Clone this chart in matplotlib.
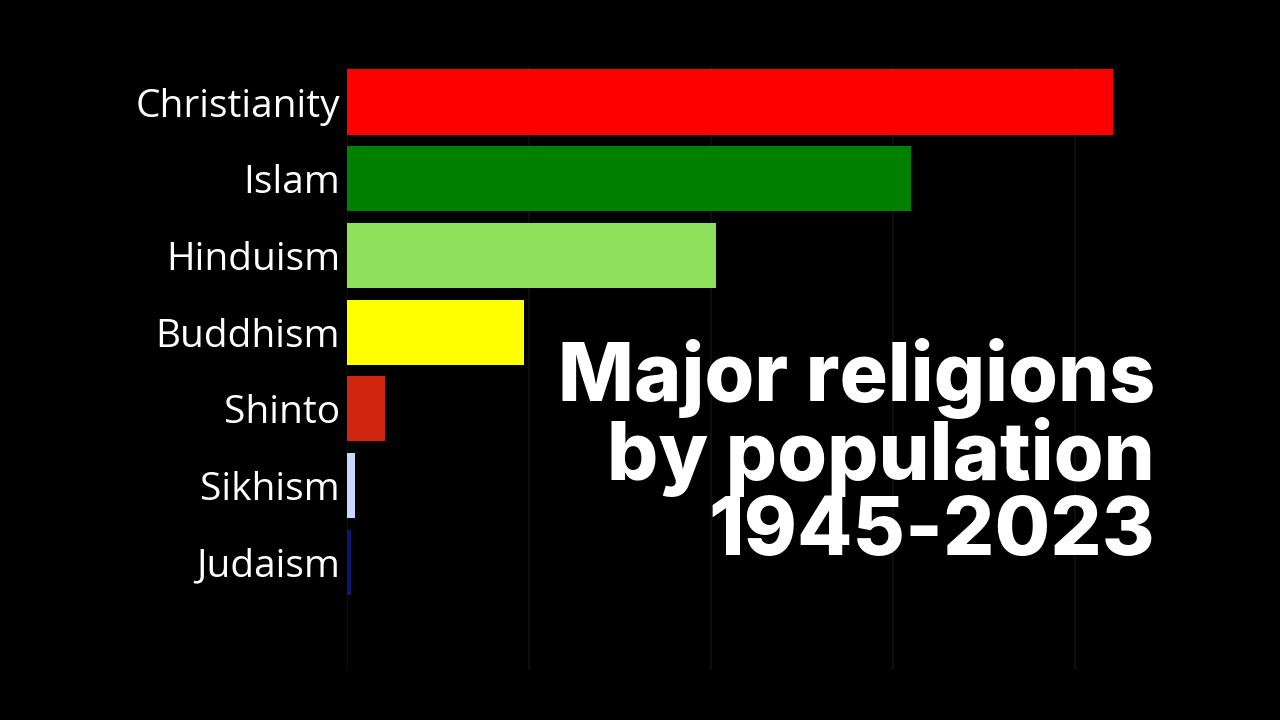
import matplotlib.pyplot as plt

# Religion populations (millions)
religions = ['Christianity', 'Islam', 'Hinduism', 'Buddhism', 'Shinto', 'Sikhism', 'Judaism']
population = [2105, 1550, 1015, 485, 105, 22, 12]
colors = ['#ff0000', '#008000', '#8fe05a', '#ffff00', '#d0260e', '#c9d6ff', '#0b1a6a']

fig = plt.figure(figsize=(12.8, 7.2), dpi=100, facecolor='black')
ax = fig.add_axes([347 / 1280, 50 / 720, (1270 - 347) / 1280, (670 - 66) / 720])
ax.set_facecolor('black')

y = list(range(len(religions)))
ax.barh(y, population, height=0.85, color=colors, zorder=3)

ax.set_xlim(0, (1270 - 347) / 182 * 500)
ax.set_ylim((670 - 102) / 76.7, -(102 - 66) / 76.7)
ax.set_xticks([0, 500, 1000, 1500, 2000])
ax.set_xticklabels([])
ax.grid(axis='x', color='#0e0e0e', linewidth=1.5, zorder=0)
ax.set_yticks(y)
ax.set_yticklabels(religions, color='white', fontsize=28, family='Open Sans')
ax.tick_params(length=0, pad=5)
for s in ax.spines.values():
    s.set_visible(False)

fig.text(1155 / 1280, 1 - 455 / 720, 'Major religions\nby population\n1945-2023',
         ha='right', va='center', color='white', fontsize=58, fontweight='heavy',
         family='Inter', linespacing=0.97, multialignment='right')

fig.savefig('out.png', dpi=100, facecolor='black')
